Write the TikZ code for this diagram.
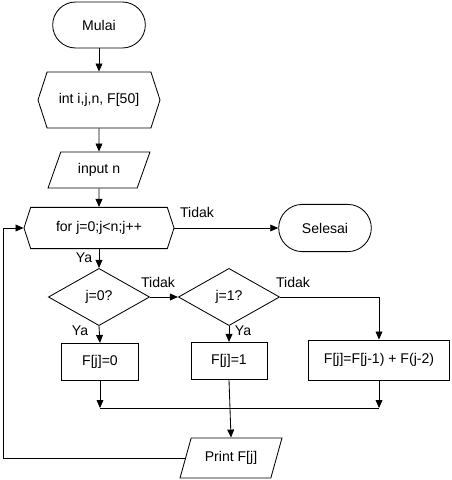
\documentclass[tikz,border=0pt]{standalone}
\usepackage{fontspec}
\setmainfont{Liberation Sans}
\usetikzlibrary{shapes.misc,shapes.geometric,shapes.symbols,arrows.meta}

\tikzset{
  terminal/.style={draw,rounded rectangle,minimum width=2.55cm,minimum height=1.15cm},
  prep/.style={draw,signal,signal to=west and east,signal pointer angle=144,minimum height=#1},
  io/.style={draw,trapezium,trapezium left angle=69,trapezium right angle=111,trapezium stretches=true,minimum height=#1},
  decision/.style={draw,diamond,minimum width=2.53cm,minimum height=1.43cm,inner sep=1pt},
  process/.style={draw,rectangle,minimum height=0.93cm},
  lbl/.style={inner sep=1pt},
  arr/.style={-{Triangle[length=2mm,width=1.7mm]}}
}

\begin{document}
\begin{tikzpicture}[x=0.025cm,y=-0.025cm,line width=0.6pt]
\useasboundingbox (0,0) rectangle (452,480);
\node[terminal] at (99,25) (mulai){Mulai};
\node[prep=1.4cm,minimum width=3.05cm] at (99,100) (decl){int i,j,n, F[50]};
\node[io=0.9cm,minimum width=2.55cm] at (99,170) (input){input n};
\node[prep=1.03cm,minimum width=3.75cm] at (99,228) (loop){for j=0;j<n;j++};
\node[terminal,minimum height=1.18cm] at (325,228) (selesai){Selesai};
\node[decision] at (99,297) (cek0){j=0?};
\node[decision] at (229,297) (cek1){j=1?};
\node[process,minimum width=1.93cm] at (100,362) (fnol){F[j]=0};
\node[process,minimum width=1.9cm] at (229,361) (fsatu){F[j]=1};
\node[process,minimum width=3.53cm,minimum height=1cm] at (379,360) (fjum){F[j]=F[j-1) + F(j-2)};
\node[io=1cm,minimum width=2.55cm] at (231,458) (print){Print F[j]};
\coordinate (gabung) at (100,408);
\coordinate (balik) at (3,458);

\foreach \a/\b in {mulai/decl,decl/input,input/loop,loop/cek0,cek0/fnol,cek1/fsatu,fsatu/print}{
\draw[arr] (\a.south)--(\b.north);
}
\draw[arr] (loop.east)--(selesai.west);
\draw[arr] (cek0.east)--(cek1.west);
\draw[arr] (cek1.east)-|(fjum.north);
\draw[arr] (fnol.south)--(fnol.south |- gabung);
\draw[arr] (fjum.south)--(fjum.south |- gabung);
\draw (fnol.south |- gabung)--(fjum.south |- gabung);
\draw[arr] (print.west)--(print.west -| balik)|-(loop.west);

\node[lbl] at (197,212) {Tidak};
\node[lbl] at (158,282) {Tidak};
\node[lbl] at (293,282) {Tidak};
\node[lbl] at (84,258) {Ya};
\node[lbl] at (80,331) {Ya};
\node[lbl] at (243,331) {Ya};
\end{tikzpicture}
\end{document}
